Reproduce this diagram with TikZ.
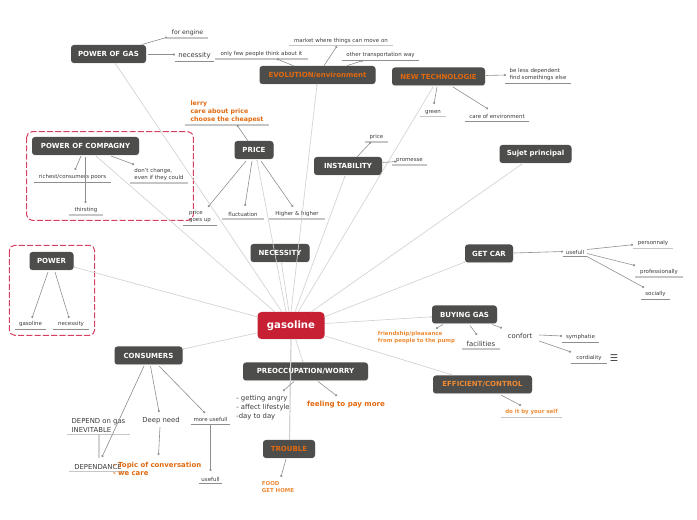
\documentclass[tikz,border=0pt]{standalone}
\usepackage{fontspec}
\setmainfont{DejaVu Sans}
\usetikzlibrary{arrows.meta,shadows}
\definecolor{boxc}{HTML}{4D4D4B}
\definecolor{rootc}{HTML}{C72035}
\definecolor{orA}{HTML}{E0690F}
\definecolor{orB}{HTML}{EE8A34}
\definecolor{framec}{HTML}{D8405F}
\definecolor{lineD}{HTML}{8E8E8E}
\definecolor{lineL}{HTML}{D2D2D2}
\definecolor{ulL}{HTML}{C6C6C6}
\definecolor{txt}{HTML}{3A3A3A}
\def\u{0.75pt}
\tikzset{
  boxn/.style={fill=boxc,rounded corners=2.2pt,text=white,font=\bfseries\fontsize{5.25}{6}\selectfont,
    minimum height=18*\u,inner sep=0pt,drop shadow={opacity=0.18,shadow xshift=0.2pt,shadow yshift=-0.5pt}},
  rootn/.style={boxn,fill=rootc,rounded corners=3pt,font=\bfseries\fontsize{7.6}{8}\selectfont,minimum height=27*\u},
  orangeT/.style={text=orA},
  orangeL/.style={text=orB},
  leafbase/.style={anchor=south,align=left,inner xsep=0pt,inner ysep=1.6pt,text=txt,
    font=\fontsize{4.1}{5.3}\selectfont},
  ulthin/.style={append after command={(\tikzlastnode.south west) edge[draw=lineD,line width=0.45pt] (\tikzlastnode.south east)}},
  ulthick/.style={append after command={(\tikzlastnode.south west) edge[draw=ulL,line width=0.8pt] (\tikzlastnode.south east)}},
  medium/.style={font=\fontsize{5.15}{6.6}\selectfont},
  orbold/.style={text=orA,font=\bfseries\fontsize{4.7}{6}\selectfont},
  orsmall/.style={text=orB,font=\bfseries\fontsize{4.1}{5.3}\selectfont},
  conn/.style={draw=lineD,line width=0.45pt,-{Circle[length=1.6pt,fill=lineD]}},
  rootlink/.style={draw=lineL,line width=0.5pt,-{Circle[length=1.2pt,fill=lineL]}},
  thicklink/.style={draw=lineL,line width=0.9pt},
  framed/.style={draw=framec,line width=0.75pt,dash pattern=on 4.6pt off 1.6pt,rounded corners=4pt}
}
\newcommand\lnk[7][conn]{\draw[#1] ([shift={(#3,#4)}]#2) -- ([shift={(#6,#7)}]#5);}
\newcommand\bx[5][]{\node[boxn,minimum width=#5*\u,#1] (#2) at (#3,#4)}
\newcommand\lf[6][ulthin]{\node[leafbase,minimum width=#4*\u,#1] (#2) at (#3,#5) {#6};}
\begin{document}
\begin{tikzpicture}[x=0.75pt,y=-0.75pt]
\useasboundingbox (0,0) rectangle (697,520);
% frames
\draw[framed] (26.7,131.7) rectangle (193.3,220.3) coordinate (frA);
\draw[framed] (9.3,245.3) rectangle (94.7,335.3) coordinate (frB);
% leaves
\lf[ulthick,font=\fontsize{4.6}{6}\selectfont]{en}{187.5}{41}{38}{for engine}
\lf[medium,ulthin]{ng}{194.5}{39}{61.5}{necessity}
\lf[ulthick]{few}{261.5}{93}{59}{only few people think about it}
\lf[ulthick]{mk}{341}{103.5}{45.7}{market where things can move on}
\lf{ot}{380.5}{77}{60.3}{other transportation way}
\lf{ls}{538}{66}{83}{be less dependent\\find somethings else}
\lf[ulthick]{gr}{433}{26}{116.7}{green}
\lf{ca}{497}{64}{121}{care of environment}
\lf[ulthick]{ip}{376.5}{22}{142}{price}
\lf[ulthick]{pm}{409.5}{35}{165}{promesse}
\lf[ulthick]{hi}{297}{54.5}{219}{Higher \& higher}
\lf[ulthick]{fl}{243}{40.5}{219}{fluctuation}
\lf{up}{200}{32.5}{225.5}{price\\goes up}
\lf[ulthick,orbold]{le}{227}{83.5}{125}{lerry\\care about price\\choose the cheapest}
\lf{ri}{72.5}{77}{182.5}{richest/consumers poors}
\lf[ulthick]{th}{86}{33.5}{215}{thirsting}
\lf[ulthick]{do}{159}{58}{183}{don't change,\\even if they could}
\lf{pg}{30.5}{31}{329.5}{gasoline}
\lf{pn}{71}{36}{329.5}{necessity}
\lf[medium]{dp}{161}{46.5}{426}{Deep need}
\lf{mu}{210.5}{39}{424}{more usefull}
\lf[medium,ulthick]{de}{98.5}{63}{434.5}{DEPEND on gas\\INEVITABLE}
\lf[medium,ulthick]{dc}{98}{58}{471.5}{DEPENDANCE}
\lf[orbold,font=\bfseries\fontsize{5.2}{6}\selectfont,text width=95*\u,inner xsep=5*\u]{tp}{160.5}{105}{477.5}{- Topic of conversation\\- we care}
\lf{us}{210.5}{23}{483.5}{usefull}
\lf[medium]{an}{263}{64}{422}{- getting angry\\- affect lifestyle\\-day to day}
\lf[orbold,font=\bfseries\fontsize{5.3}{6}\selectfont]{fe}{346}{85}{410.5}{feeling to pay more}
\lf[orsmall]{fo}{278}{40.5}{495}{FOOD\\GET HOME}
\lf{uf}{575}{24}{256.5}{usefull}
\lf[ulthick]{pe}{653}{39}{248.5}{personnaly}
\lf[ulthick]{pr}{659}{46.5}{277}{professionally}
\lf{so}{655.5}{29}{299.5}{socially}
\lf[orsmall]{fr}{416.5}{85}{346.5}{friendship/pleasance\\from people to the pump}
\lf[medium,ulthick]{fa}{481}{37.5}{349}{facilities}
\lf[medium]{cf}{520}{35.5}{341}{confort}
\lf{sy}{580.5}{37}{342.5}{symphatie}
\lf{co}{589}{36}{363.5}{cordiality}
\lf[ulthick,orsmall]{di}{531.5}{61}{417.5}{do it by your self}
\node[text=txt,inner sep=0pt,font=\fontsize{7}{8}\selectfont] (ic) at (614,358) {☰};
% boxes
\bx{gas}{108.5}{54}{75} {POWER OF GAS};
\bx{comp}{85.5}{146}{107} {POWER OF COMPAGNY};
\bx[orangeT]{evo}{317.5}{75}{116} {EVOLUTION/environment};
\bx[orangeT]{tech}{438.5}{76.5}{93} {NEW TECHNOLOGIE};
\bx{price}{254}{150}{39} {PRICE};
\bx{inst}{348}{166}{68} {INSTABILITY};
\bx{sujet}{535.5}{154}{72} {Sujet principal};
\bx{nec}{280}{253}{59} {NECESSITY};
\bx{pow}{51.5}{261}{44} {POWER};
\bx{cons}{148.5}{355.5}{68} {CONSUMERS};
\bx{pre}{305.5}{371.5}{125} {PREOCCUPATION/WORRY};
\bx[orangeT]{trou}{289}{449}{52} {TROUBLE};
\bx{car}{489}{253.5}{48} {GET CAR};
\bx{buy}{464.5}{314.5}{65} {BUYING GAS};
\bx[orangeL]{eff}{482.5}{384.5}{99} {EFFICIENT/CONTROL};
\node[rootn,minimum width=67*\u] (root) at (291,325.5) {gasoline};
% root links
\lnk[rootlink]{root.center}{-9}{-13.5}{gas.center}{6.5}{9}
\lnk[rootlink]{root.center}{-16}{-13.5}{comp.center}{10.5}{10}
\lnk[rootlink]{root.center}{-5}{-13.5}{price.center}{3}{10}
\lnk[rootlink]{root.center}{4}{-13.5}{inst.center}{-3}{10}
\lnk[rootlink]{root.center}{0}{-13.5}{evo.center}{-0.5}{9.5}
\lnk[rootlink]{root.center}{7}{-13.5}{tech.center}{-5.5}{10.5}
\lnk[rootlink]{root.center}{20}{-13.5}{sujet.center}{-13.5}{10}
\lnk[rootlink]{root.center}{-2}{-13.5}{nec.center}{1.5}{10}
\lnk[rootlink]{root.center}{-33}{-8.5}{pow.center}{22.5}{6}
\lnk[rootlink]{root.center}{33}{-8.5}{car.center}{-24}{8.5}
\lnk[rootlink]{root.center}{34}{-2}{buy.center}{-32.5}{2.3}
\lnk[rootlink]{root.center}{34}{10.5}{eff.center}{-30.5}{-9.7}
\lnk[rootlink]{root.center}{-34}{7.5}{cons.center}{34.5}{-6.5}
\lnk[thicklink]{root.center}{0}{13.5}{trou.center}{0.5}{-9}
\lnk[rootlink]{root.center}{4.5}{13.5}{pre.center}{-2.5}{-9.5}
% child links
\lnk{gas.center}{33.5}{-9.5}{en.south}{-20.5}{-0.7}
\lnk{gas.center}{39.5}{0.5}{ng.south}{-19.5}{-7}
\lnk{evo.center}{-23.5}{-9}{few.south}{15.5}{0}
\lnk{evo.center}{6.5}{-9.3}{mk.south}{-4}{0.3}
\lnk{evo.center}{29.5}{-9.3}{ot.south}{-17.5}{0.2}
\lnk{tech.center}{47.5}{-1}{ls.south}{-32}{-8}
\lnk{tech.center}{-1.5}{10.5}{gr.south}{1}{-12.7}
\lnk{tech.center}{14.5}{10.5}{ca.south}{-9}{-12}
\lnk{inst.center}{9}{-9}{ip.south}{-5.5}{0}
\lnk{inst.center}{35}{-3.5}{pm.south}{-13.5}{-3.5}
\lnk{price.center}{7}{11}{hi.south}{-4}{-12}
\lnk{price.center}{-2}{11}{fl.south}{2}{-13}
\lnk{price.center}{-8}{11}{up.south}{8}{-18.5}
\lnk{price.center}{-6}{-9}{le.south}{10}{0}
\lnk{comp.center}{-4.5}{10}{ri.south}{2.5}{-12.5}
\lnk{comp.center}{0}{11}{th.south}{-0.5}{-12}
\lnk{comp.center}{25.5}{10}{do.south}{-25}{-18.5}
\lnk{pow.center}{-3.5}{11}{pg.south}{1.5}{-11.5}
\lnk{pow.center}{3.5}{11}{pn.south}{-2}{-11.5}
\lnk{cons.center}{2}{10.5}{dp.south}{-2}{-14}
\lnk{cons.center}{10.5}{10.5}{mu.south}{-5.5}{-11}
\lnk{cons.center}{-4.5}{10.5}{dc.south}{4}{-14.5}
\lnk[thicklink]{de.south}{0.5}{0.5}{dc.south}{1}{-13.5}
\lnk{dp.south}{-1}{1}{tp.south}{-2}{-22.5}
\lnk{mu.south}{0}{1}{us.south}{0}{-12.5}
\lnk{pre.center}{-11.5}{10}{an.south}{20}{-31}
\lnk{pre.center}{12.5}{10}{fe.south}{-9}{-14.5}
\lnk{trou.center}{-3}{10}{fo.south}{3}{-18}
\lnk{car.center}{25}{-0.5}{uf.south}{-12}{-5}
\lnk{uf.south}{12}{-7}{pe.south}{-20}{-3.8}
\lnk{uf.south}{12}{-3}{pr.south}{-24}{-11.5}
\lnk{uf.south}{12}{0}{so.south}{-11.5}{-12}
\lnk{buy.center}{-21.5}{10}{fr.south}{19.5}{-18}
\lnk{buy.center}{5.5}{11}{fa.south}{-4}{-14}
\lnk{buy.center}{27.5}{10}{cf.south}{-18}{-13}
\lnk{cf.south}{19}{-6}{sy.south}{-18.5}{-6.5}
\lnk{cf.south}{19}{0}{co.south}{-18}{-11.5}
\lnk{eff.center}{18.5}{10.5}{di.south}{-10.5}{-12}
\end{tikzpicture}
\end{document}
